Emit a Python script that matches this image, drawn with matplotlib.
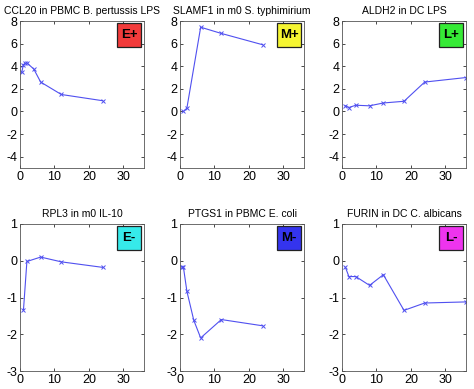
import matplotlib
matplotlib.use("Agg")
import matplotlib.pyplot as plt
from matplotlib.patches import Rectangle

plt.rcParams['font.family'] = ['Liberation Sans', 'DejaVu Sans']
plt.rcParams['axes.unicode_minus'] = False

# panel data (time in hours, log fold change)
titles = ["CCL20 in PBMC B. pertussis LPS", "SLAMF1 in m0 S. typhimirium", "ALDH2 in DC LPS",
          "RPL3 in m0 IL-10", "PTGS1 in PBMC E. coli", "FURIN in DC C. albicans"]
badges = ["E+", "M+", "L+", "E-", "M-", "L-"]
badge_colors = ["#f23b3b", "#f5f532", "#36ea36", "#36eaea", "#3434ee", "#ee34ee"]

x1 = [0.5, 1, 1.5, 2, 4, 6, 12, 24]
y1 = [3.45, 4.15, 4.25, 4.3, 3.75, 2.6, 1.5, 0.95]
x2 = [1, 2, 6, 12, 24]
y2 = [0.0, 0.3, 7.45, 6.9, 5.9]
x3 = [1, 2, 4, 8, 12, 18, 24, 36]
y3 = [0.5, 0.35, 0.55, 0.5, 0.75, 0.9, 2.6, 3.0]
x4 = [1, 2, 6, 12, 24]
y4 = [-1.35, -0.02, 0.1, -0.03, -0.18]
x5 = [0.5, 1, 2, 4, 6, 12, 24]
y5 = [-0.17, -0.18, -0.83, -1.62, -2.1, -1.6, -1.77]
x6 = [1, 2, 4, 8, 12, 18, 24, 36]
y6 = [-0.18, -0.43, -0.43, -0.67, -0.38, -1.35, -1.15, -1.12]

xs = [x1, x2, x3, x4, x5, x6]
ys = [y1, y2, y3, y4, y5, y6]

fig = plt.figure(figsize=(4.74, 3.89), dpi=100)
lefts = [20 / 474, 180 / 474, 342 / 474]
bottoms = [1 - 168 / 389, 1 - 371 / 389]
w = 124 / 474
h = 147 / 389

for i in range(6):
    r, c = divmod(i, 3)
    ax = fig.add_axes([lefts[c], bottoms[r], w, h])
    ax.plot(xs[i], ys[i], color="#5050f0", lw=0.8, marker="x", ms=3.5, mew=0.7)
    ax.set_xlim(0, 36)
    ax.set_xticks([0, 10, 20, 30])
    if r == 0:
        ax.set_ylim(-5, 8)
        ax.set_yticks(range(-4, 9, 2))
    else:
        ax.set_ylim(-3, 1)
        ax.set_yticks([-3, -2, -1, 0, 1])
    ax.tick_params(direction="in", top=True, right=True, length=2, width=0.5,
                   labelsize=9, pad=2, colors="black")
    for s in ax.spines.values():
        s.set_linewidth(0.6)
        s.set_color("#555555")
    ax.set_title(titles[i], fontsize=7.5, pad=5)
    # coloured badge, about 24 px square in the upper-right corner
    bw, bh = 24 / 124, 24 / 147
    bx, by = 1 - 3 / 124 - bw, 1 - 2 / 147 - bh
    ax.add_patch(Rectangle((bx, by), bw, bh, transform=ax.transAxes,
                           fc=badge_colors[i], ec="#222222", lw=0.9, zorder=5))
    ax.text(bx + bw / 2, by + bh / 2, badges[i], transform=ax.transAxes,
            ha="center", va="center", fontsize=9.5, fontweight="bold", zorder=6)

fig.savefig("out.png", dpi=100)
